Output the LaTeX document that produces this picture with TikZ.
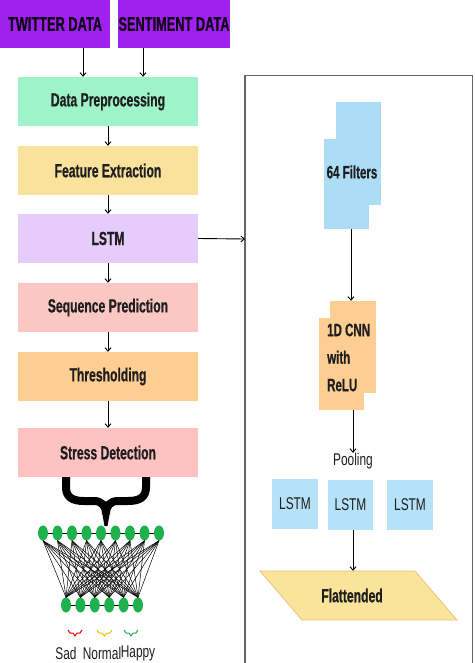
\documentclass[tikz,border=0pt]{standalone}
\usepackage{fontspec}
\setmainfont[FakeStretch=0.7]{Liberation Sans}
\newfontfamily\condb[FakeStretch=0.64,FakeBold=0.6]{Liberation Sans}
\usetikzlibrary{arrows.meta,shapes.geometric}
\definecolor{purp}{HTML}{A020F0}
\definecolor{mint}{HTML}{9EF4C8}
\definecolor{yel}{HTML}{FBE29C}
\definecolor{lav}{HTML}{E6CCFB}
\definecolor{pinkA}{HTML}{FBC7C3}
\definecolor{orng}{HTML}{FDCD92}
\definecolor{pinkB}{HTML}{FFC2C2}
\definecolor{lblue}{HTML}{ADDCF7}
\definecolor{lblueB}{HTML}{B5E2F8}
\definecolor{flat}{HTML}{FAE39B}
\definecolor{flatB}{HTML}{E9C27A}
\definecolor{txt}{HTML}{1E1E1E}
\definecolor{netg}{HTML}{1DB24E}
\definecolor{gold}{HTML}{F2C200}
\definecolor{grn}{HTML}{2FA55A}
\begin{document}
\begin{tikzpicture}[x=1pt,y=-1pt,
  arr/.style={-{Straight Barb[length=3.5pt,width=6pt]}, line width=0.9pt, black},
  stage/.style={rectangle, minimum width=180pt, minimum height=49pt, inner sep=0pt,
     text=txt, font=\condb\bfseries\fontsize{19}{20}\selectfont},
  topbox/.style={rectangle, fill=purp, minimum width=110pt, minimum height=48pt, inner sep=0pt,
     text=black!90!purp, font=\condb\bfseries\fontsize{20}{21}\selectfont},
  plain/.style={inner sep=0pt, text=txt},
  bfnt/.style={font=\condb\bfseries\fontsize{18}{19}\selectfont},
  rfnt/.style={font=\fontsize{17}{18}\selectfont},
  neur/.style={ellipse, fill=netg, minimum width=10pt, minimum height=15pt, inner sep=0pt},
  rlstm/.style={rectangle, fill=lblueB, minimum width=46pt, minimum height=50pt, inner sep=0pt,
     text=txt, rfnt}
]
\useasboundingbox (0,0) rectangle (474,663);

% top inputs
\node[topbox] (tw) at (55,24) {TWITTER DATA};
\node[topbox] (se) at (174,24) {SENTIMENT DATA};

% left pipeline
\node[stage, fill=mint]  (prep) at (108,101.5) {Data Preprocessing};
\node[stage, fill=yel]   (feat) at (108,170.5) {Feature Extraction};
\node[stage, fill=lav]   (lstm) at (108,238.5) {LSTM};
\node[stage, fill=pinkA] (seq)  at (108,307.5) {Sequence Prediction};
\node[stage, fill=orng]  (thr)  at (108,376.5) {Thresholding};
\node[stage, fill=pinkB] (str)  at (108,452.5) {Stress Detection};

\draw[arr] (tw.south -| 83,0) -- (prep.north -| 83,0);
\draw[arr] (se.south -| 143,0) -- (prep.north -| 143,0);
\draw[arr] (prep) -- (feat);
\draw[arr] (feat) -- (lstm);
\draw[arr] (lstm) -- (seq);
\draw[arr] (seq) -- (thr);
\draw[arr] (thr) -- (str);

% big brace
\draw[line width=8pt, line cap=butt]
  (66,477) -- (66,487) .. controls (66,497) and (72,501) .. (84,501) -- (94,501)
  .. controls (102,501) and (106,506) .. (106,514);
\draw[line width=8pt, line cap=butt]
  (146,477) -- (146,487) .. controls (146,497) and (140,501) .. (128,501) -- (118,501)
  .. controls (110,501) and (106,506) .. (106,514);
\fill (102,512) -- (110,512) -- (107.5,526) -- (104.5,526) -- cycle;

% network
\draw[line width=0.8pt] (43,533) -- (159,533);
\draw[line width=0.8pt] (66,605) -- (138,605);
\foreach \i in {0,...,8} {
  \node[neur] (t\i) at ({43+14.5*\i},533) {};
}
\foreach \j in {0,...,5} {
  \node[neur] (b\j) at ({66+14.4*\j},605) {};
}
\foreach \i in {0,...,8} {
  \foreach \j in {0,...,5} {
    \draw[line width=0.5pt] (t\i.south) -- (b\j.north);
  }
}

% small coloured braces
\draw[red, line width=1pt] (68,630) -- (70,633) -- (73,633) -- (75,636) -- (77,633) -- (80,633) -- (82,630);
\draw[gold, line width=1pt] (97,630) -- (99,633) -- (102,633) -- (104.5,636) -- (107,633) -- (110,633) -- (112,630);
\draw[grn, line width=1pt] (124,630) -- (126,633) -- (129,633) -- (131,636) -- (133,633) -- (136,633) -- (138,630);

\node[plain, rfnt] (sad) at (66,653) {Sad};
\node[plain, rfnt] (nor) at (102,653) {Normal};
\node[plain, rfnt] (hap) at (138,653) {Happy};

% right panel
\draw[line width=1.3pt, black!60] (245,664) -- (245,75.5) -- (472.5,75.5) -- (472.5,664);
\coordinate (panel) at (245,239);
\draw[arr] (lstm.east) -- (panel);

% 64 filters
\node[rectangle, fill=lblue, minimum width=45pt, minimum height=103pt, inner sep=0pt] (filtB) at (358.5,153.5) {};
\node[rectangle, fill=lblue, minimum width=45pt, minimum height=90pt, inner sep=0pt] (filtF) at (346.5,184) {};
\node[plain, bfnt] (filtT) at (352,172) {64 Filters};

% 1D CNN
\node[rectangle, fill=orng, minimum width=46pt, minimum height=92pt, inner sep=0pt] (cnnB) at (353,347) {};
\node[rectangle, fill=orng, minimum width=45pt, minimum height=92pt, inner sep=0pt] (cnnF) at (341.5,364) {};
\node[plain, anchor=west, align=left, font=\condb\bfseries\fontsize{18}{27.5}\selectfont] (cnnT) at (327,357.5) {1D CNN\\with\\ReLU};

\draw[arr] (filtF.south -| 351,0) -- (cnnB.north -| 351,0);

% pooling
\node[plain, rfnt] (pool) at (353,461) {Pooling};
\draw[arr] (cnnF.south -| 353,0) -- (pool.north -| 353,0);

\node[rlstm] (l1) at (295,504) {LSTM};
\node[rlstm, minimum width=45pt] (l2) at (350.5,505) {LSTM};
\node[rlstm] (l3) at (410,505) {LSTM};

% flattened
\filldraw[fill=flat, draw=flatB, line width=0.8pt] (260,571) -- (415,571) -- (457,620) -- (302,620) -- cycle;
\node[plain, minimum height=49pt, font=\condb\bfseries\fontsize{19}{20}\selectfont] (flt) at (352,595.5) {Flattended};
\draw[arr] (l2.south -| 353,0) -- (flt.north -| 353,0);
\end{tikzpicture}
\end{document}
